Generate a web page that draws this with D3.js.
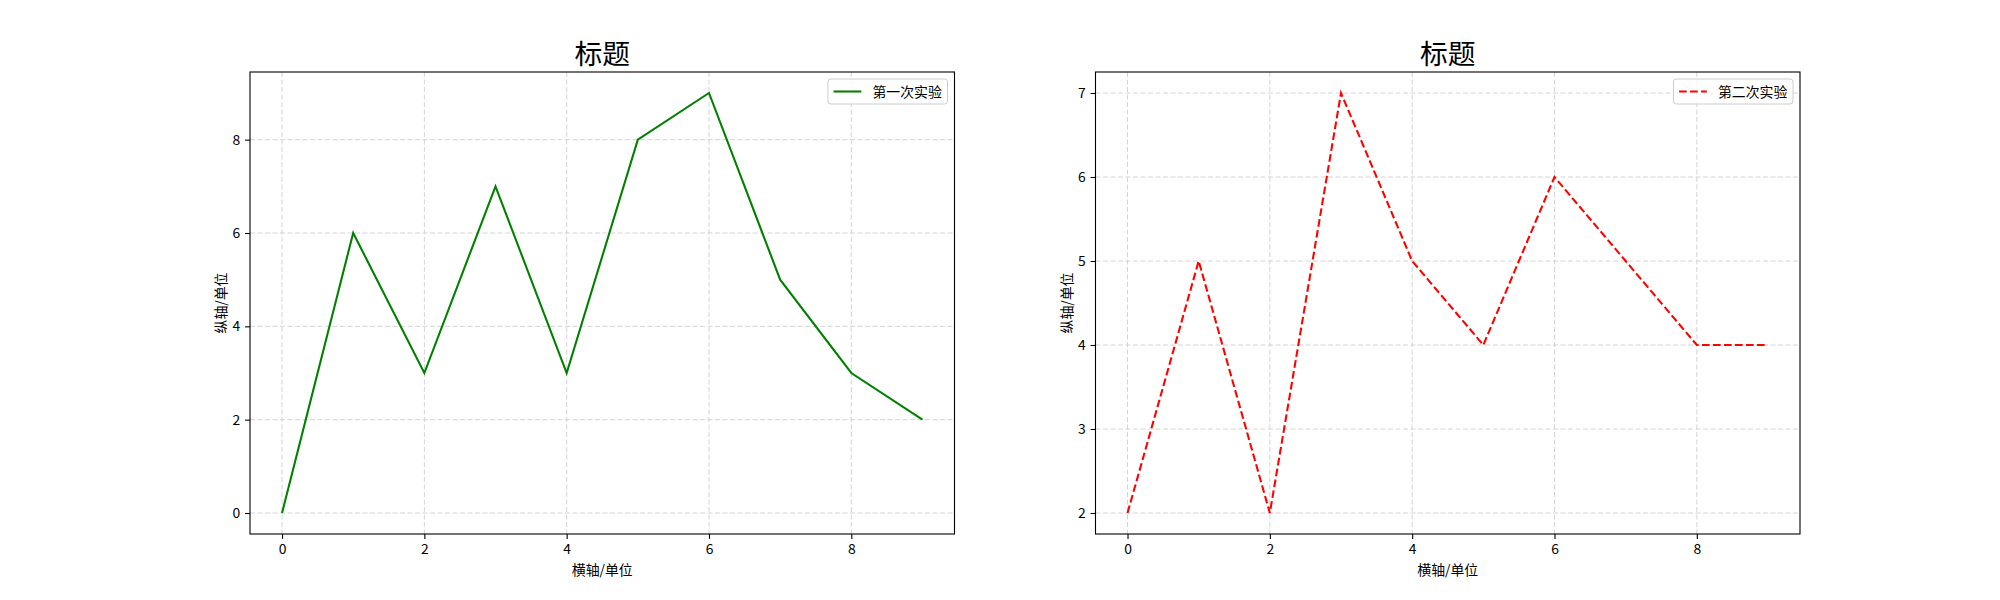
<!DOCTYPE html>
<html>
<head>
<meta charset="utf-8">
<script src="https://cdn.jsdelivr.net/npm/d3@7"></script>
<style>
  body { margin: 0; background: white; }
  svg text { font-family: "Noto Sans CJK SC", "DejaVu Sans", sans-serif; fill: black; }
  .gridline { stroke: #d4d4d4; stroke-width: 1; stroke-dasharray: 5,2.5; }
  .tick line { stroke: black; stroke-width: 1.1; }
  .domain { display: none; }
</style>
</head>
<body>
<div id="chart"></div>
<script>
// data
var xs = [0, 1, 2, 3, 4, 5, 6, 7, 8, 9];
var first_series = [0, 6, 3, 7, 3, 8, 9, 5, 3, 2];
var second_series = [2, 5, 2, 7, 5, 4, 6, 5, 4, 4];
var x_ticks = [0, 2, 4, 6, 8];
var y_ticks_1 = [0, 2, 4, 6, 8];
var y_ticks_2 = [2, 3, 4, 5, 6, 7];
var title_text = "标题";
var x_label = "横轴/单位";
var y_label = "纵轴/单位";
var legend_1 = "第一次实验";
var legend_2 = "第二次实验";

var W = 2000, H = 600;
var svg = d3.select('#chart')
  .append("svg")
  .attr("width", W)
  .attr("height", H)
  .style('background', "white");

function draw_panel(left, width, values, yticks, color, dash, legend_name)
{
  var top = 72, height = 462;
  var g = svg.append("g").attr("transform", "translate(" + left + "," + top + ")");

  var xmin = d3.min(xs), xmax = d3.max(xs);
  var xpad = (xmax - xmin) * 0.05;
  var xscale = d3.scaleLinear().domain([xmin - xpad, xmax + xpad]).range([0, width]);

  var ymin = d3.min(values), ymax = d3.max(values);
  var ypad = (ymax - ymin) * 0.05;
  var yscale = d3.scaleLinear().domain([ymin - ypad, ymax + ypad]).range([height, 0]);

  // grid
  g.append('g').selectAll('line')
    .data(x_ticks).enter().append('line')
    .attr('class', 'gridline')
    .attr('x1', d => xscale(d)).attr('x2', d => xscale(d))
    .attr('y1', 0).attr('y2', height);

  g.append('g').selectAll('line')
    .data(yticks).enter().append('line')
    .attr('class', 'gridline')
    .attr('x1', 0).attr('x2', width)
    .attr('y1', d => yscale(d)).attr('y2', d => yscale(d));

  // axes
  g.append("g")
    .attr("transform", "translate(0," + height + ")")
    .call(d3.axisBottom(xscale).tickValues(x_ticks).tickFormat(d3.format("d")).tickSize(4.9).tickPadding(4.9))
    .selectAll("text").style("font-size", "13.9px");

  g.append("g")
    .call(d3.axisLeft(yscale).tickValues(yticks).tickFormat(d3.format("d")).tickSize(4.9).tickPadding(4.9))
    .selectAll("text").style("font-size", "13.9px");

  // line
  var path = g.append("path")
    .datum(xs.map((x, i) => ({x: x, y: values[i]})))
    .attr("fill", "none")
    .attr("stroke", color)
    .attr("stroke-width", 2.08)
    .attr("d", d3.line().x(d => xscale(d.x)).y(d => yscale(d.y)));
  if (dash) path.attr("stroke-dasharray", dash);

  // frame
  g.append("rect")
    .attr("width", width).attr("height", height)
    .attr("fill", "none").attr("stroke", "black").attr("stroke-width", 1.1);

  // title and labels
  g.append("text")
    .attr("x", width / 2).attr("y", -8.5)
    .attr("text-anchor", "middle")
    .style("font-size", "27.8px")
    .text(title_text);

  g.append("text")
    .attr("x", width / 2).attr("y", height + 41)
    .attr("text-anchor", "middle")
    .style("font-size", "13.9px")
    .text(x_label);

  g.append("text")
    .attr("transform", "translate(-24," + (height / 2) + ")rotate(-90)")
    .attr("text-anchor", "middle")
    .style("font-size", "13.9px")
    .text(y_label);

  // legend
  var fs = 13.9;
  var lg = g.append("g");
  var box = lg.append("rect");
  var txt = lg.append("text")
    .style("font-size", fs + "px")
    .text(legend_name);
  var tw = txt.node().getComputedTextLength();
  var bw = 5.6 + 27.8 + 11.1 + tw + 5.6;
  var bh = 25;
  var bx = width - 7 - bw, by = 7;
  box.attr("x", bx).attr("y", by).attr("width", bw).attr("height", bh)
    .attr("rx", 3).attr("fill", "white").attr("fill-opacity", 0.8)
    .attr("stroke", "#cccccc").attr("stroke-width", 1);
  var ly = by + bh / 2;
  var hl = lg.append("line")
    .attr("x1", bx + 5.6).attr("x2", bx + 5.6 + 27.8)
    .attr("y1", ly).attr("y2", ly)
    .attr("stroke", color).attr("stroke-width", 2.08);
  if (dash) hl.attr("stroke-dasharray", dash);
  txt.attr("x", bx + 5.6 + 27.8 + 11.1).attr("y", ly).attr("dy", "0.36em");
}

draw_panel(250, 704.5, first_series, y_ticks_1, "green", null, legend_1);
draw_panel(1095.5, 704.5, second_series, y_ticks_2, "red", "7.7,3.3", legend_2);
</script>
</body>
</html>
